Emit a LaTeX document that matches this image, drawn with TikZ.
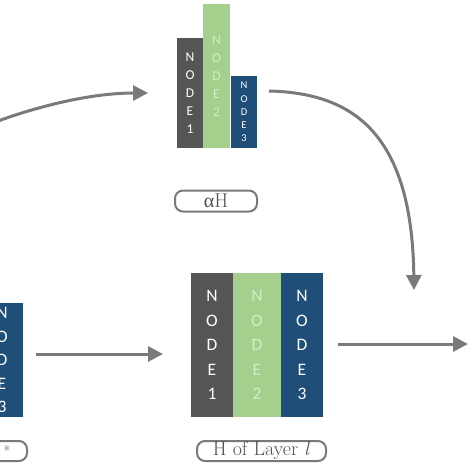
\documentclass[tikz,border=0pt]{standalone}
\usepackage{fontspec}
\newfontfamily\barfont{Carlito}
\newfontfamily\greekfont{Liberation Serif}
\usetikzlibrary{arrows.meta}
\definecolor{bargray}{HTML}{555555}
\definecolor{bargreen}{HTML}{A5CF8D}
\definecolor{barblue}{HTML}{1F4E79}
\definecolor{greentext}{HTML}{D5ECC6}
\definecolor{linegray}{HTML}{7A7A7A}
\definecolor{labeltext}{HTML}{505050}
\begin{document}
\begin{tikzpicture}[x=1pt,y=-1pt,
  barbox/.style={inner sep=0pt, outer sep=0pt, align=center},
  bigtxt/.style={font=\barfont\fontsize{17.5}{24.5}\selectfont},
  midtxt/.style={font=\barfont\fontsize{13.5}{18}\selectfont},
  smalltxt/.style={font=\barfont\fontsize{10.5}{13.3}\selectfont},
  lbl/.style={draw=linegray, line width=2pt, rounded corners=8pt, inner sep=0pt, text=labeltext, font=\fontsize{20}{20}\selectfont},
  conn/.style={draw=linegray, line width=3pt, -{Triangle[length=15pt,width=15pt]}}
]
\useasboundingbox (0,0) rectangle (474,474);
\clip (0,0) rectangle (474,474);
% top bars
\node[barbox, fill=bargray, text=white, midtxt, minimum width=26pt, minimum height=110pt] (t1) at (190,93) {N\\O\\D\\E\\1};
\node[barbox, fill=bargreen, text=greentext, midtxt, minimum width=27pt, minimum height=144pt] (t2) at (216.5,76) {N\\O\\D\\E\\2};
\node[barbox, fill=barblue, text=white, smalltxt, minimum width=26pt, minimum height=72pt] (t3) at (244,112) {N\\O\\D\\E\\3};
\node[lbl, minimum width=82pt, minimum height=21pt] (ah) at (216,201) {{\greekfont α}H};
% bottom bars
\node[barbox, fill=bargray, text=white, bigtxt, minimum width=42pt, minimum height=144pt] (b1) at (212,345) {N\\O\\D\\E\\1};
\node[barbox, fill=bargreen, text=greentext, bigtxt, minimum width=48pt, minimum height=144pt] (b2) at (257,345) {N\\O\\D\\E\\2};
\node[barbox, fill=barblue, text=white, bigtxt, minimum width=42pt, minimum height=144pt] (b3) at (302,345) {N\\O\\D\\E\\3};
\node[lbl, minimum width=129pt, minimum height=20pt] (hl) at (261.5,451) {H of Layer \textit{l}};
% left partial bar
\node[barbox, fill=barblue, text=white, font=\barfont\fontsize{17.5}{23.5}\selectfont, minimum width=42pt, minimum height=114pt] (l3) at (2,360) {N\\O\\D\\E\\3};
\node[lbl, minimum width=107pt, minimum height=20pt] (lbox) at (-26.5,451) {};
\node[text=labeltext, inner sep=0pt, font=\fontsize{15}{15}\selectfont] (star) at (7,451) {*};
% connector end points
\coordinate (a0) at (-2,121);
\coordinate (a1) at (148,93);
\coordinate (c0) at (269,91);
\coordinate (c1) at (414,290);
\coordinate (d0) at (36,354);
\coordinate (d1) at (163,354);
\coordinate (e0) at (338,344);
\coordinate (e1) at (468,344);
\draw[conn] (a0) .. controls (45,104) and (95,93) .. (a1);
\draw[conn] (c0) .. controls (350,93) and (412,130) .. (c1);
\draw[conn] (d0) -- (d1);
\draw[conn] (e0) -- (e1);
\end{tikzpicture}
\end{document}
